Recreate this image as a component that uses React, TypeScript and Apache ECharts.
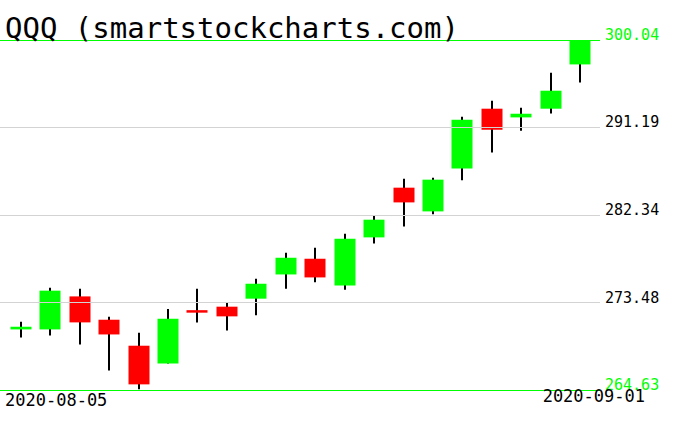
import React, { useEffect, useRef } from "react";
import * as echarts from "echarts";

const dates = [
  "2020-08-05", "2020-08-06", "2020-08-07", "2020-08-10", "2020-08-11",
  "2020-08-12", "2020-08-13", "2020-08-14", "2020-08-17", "2020-08-18",
  "2020-08-19", "2020-08-20", "2020-08-21", "2020-08-24", "2020-08-25",
  "2020-08-26", "2020-08-27", "2020-08-28", "2020-08-31", "2020-09-01",
];
const opens = [
  270.76, 270.76, 274.10, 271.74, 269.11, 267.32, 272.68, 273.06, 273.87, 276.32,
  277.91, 275.21, 280.07, 285.10, 282.70, 287.05, 293.09, 292.21, 293.09, 297.57,
];
const closes = [
  271.03, 274.68, 271.47, 270.25, 265.20, 271.84, 272.48, 272.08, 275.38, 278.01,
  276.02, 279.94, 281.86, 283.61, 285.91, 291.98, 290.96, 292.58, 294.91, 300.04,
];
const lows = [
  269.95, 270.15, 269.24, 266.61, 264.70, 267.30, 271.47, 270.66, 272.18, 274.88,
  275.52, 274.78, 279.46, 281.18, 282.40, 285.84, 288.67, 290.86, 292.61, 295.75,
];
const highs = [
  271.54, 274.98, 274.88, 272.04, 270.43, 272.82, 274.88, 273.46, 275.89, 278.52,
  279.03, 280.44, 282.26, 286.01, 286.11, 292.28, 293.90, 293.19, 296.73, 300.04,
];
const tickValues = [264.63, 273.48, 282.34, 291.19, 300.04];
const tickLabels = ["264.63", "273.48", "282.34", "291.19", "300.04"];
const title = "QQQ (smartstockcharts.com)";

const GREEN = "#00ff00";
const RED = "#ff0000";
const GRAY = "#d3d3d3";
const MONO = "'DejaVu Sans Mono', monospace";

export default function App() {
  const ref = useRef<HTMLDivElement>(null);

  useEffect(() => {
    if (!ref.current) return;
    const chart = echarts.init(ref.current, undefined, { renderer: "svg" });
    const data = dates.map((_, i) => [i, opens[i], closes[i], lows[i], highs[i]]);
    const lastTick = tickValues.length - 1;

    chart.setOption({
      animation: false,
      backgroundColor: "#ffffff",
      grid: { left: 0, right: 76, top: 40, bottom: 41, containLabel: false },
      xAxis: { type: "value", min: -0.703, max: 19.67, show: false },
      yAxis: { type: "value", min: tickValues[0], max: tickValues[lastTick], show: false },
      graphic: [
        {
          type: "text",
          x: 5,
          y: 28,
          z: 20,
          style: {
            text: title,
            fill: "#000",
            font: `normal 29px ${MONO}`,
            verticalAlign: "middle",
            textAlign: "left",
          },
        },
        {
          type: "text",
          x: 5,
          y: 400,
          z: 20,
          style: {
            text: dates[0],
            fill: "#000",
            font: `normal 17px ${MONO}`,
            verticalAlign: "middle",
            textAlign: "left",
          },
        },
        {
          type: "text",
          x: 645,
          y: 396,
          z: 20,
          style: {
            text: dates[dates.length - 1],
            fill: "#000",
            font: `normal 17px ${MONO}`,
            verticalAlign: "middle",
            textAlign: "right",
          },
        },
      ],
      series: [
        {
          type: "custom",
          data,
          clip: false,
          encode: { x: 0, y: [1, 2, 3, 4] },
          renderItem: (_params: any, api: any) => {
            const i = api.value(0);
            const o = api.value(1);
            const c = api.value(2);
            const l = api.value(3);
            const h = api.value(4);
            const pO = api.coord([i, o]);
            const pC = api.coord([i, c]);
            const pL = api.coord([i, l]);
            const pH = api.coord([i, h]);
            const x = Math.round(pO[0]);
            let top = Math.min(pO[1], pC[1]);
            let hgt = Math.abs(pO[1] - pC[1]);
            if (hgt < 2.5) {
              top -= (2.5 - hgt) / 2;
              hgt = 2.5;
            }
            return {
              type: "group",
              children: [
                {
                  type: "line",
                  shape: { x1: x, y1: pH[1], x2: x, y2: pL[1] },
                  style: { stroke: "#000", lineWidth: 2 },
                },
                {
                  type: "rect",
                  shape: { x: x - 10.5, y: top, width: 21, height: hgt },
                  style: { fill: c >= o ? GREEN : RED },
                },
              ],
            };
          },
          markLine: {
            silent: true,
            symbol: "none",
            animation: false,
            label: {
              position: "end",
              distance: 5,
              fontFamily: MONO,
              fontSize: 15,
              verticalAlign: "bottom",
              lineHeight: 10,
            },
            data: tickValues.map((v, k) => {
              const edge = k === 0 || k === lastTick;
              return {
                yAxis: v,
                lineStyle: { color: edge ? GREEN : GRAY, width: 1, type: "solid" },
                label: { formatter: tickLabels[k], color: edge ? GREEN : "#000" },
              };
            }),
          },
        },
      ],
    });

    return () => chart.dispose();
  }, []);

  return (
    <div
      ref={ref}
      style={{ position: "absolute", left: 0, top: 0, width: 676, height: 431 }}
    />
  );
}
